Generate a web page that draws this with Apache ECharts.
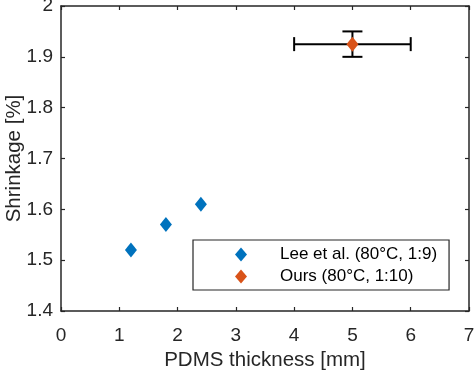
<!DOCTYPE html>
<html>
<head>
<meta charset="utf-8">
<script src="https://cdn.jsdelivr.net/npm/echarts@6/dist/echarts.min.js"></script>
<style>html,body{margin:0;padding:0;background:#fff;}#c{width:474px;height:370px;}</style>
</head>
<body>
<div id="c"></div>
<script>
// Data
const leeName = 'Lee et al. (80°C, 1:9)';
const oursName = 'Ours (80°C, 1:10)';
const leeX = [1.2, 1.8, 2.4];
const leeY = [1.52, 1.57, 1.61];
const oursX = [5];
const oursY = [1.925];
const oursXLow = [4];
const oursXHigh = [6];
const oursYLow = [1.90];
const oursYHigh = [1.95];
const xTicks = [0, 1, 2, 3, 4, 5, 6, 7];
const yTicks = [1.4, 1.5, 1.6, 1.7, 1.8, 1.9, 2];

const FONT = '"Liberation Sans", Arial, Helvetica, sans-serif';
const AX = '#262626';

const chart = echarts.init(document.getElementById('c'), null, {renderer: 'canvas'});

const errData = oursX.map((x, i) => [x, oursY[i], oursXLow[i], oursXHigh[i], oursYLow[i], oursYHigh[i]]);

const axisCommon = {
  axisLine: {show: true, onZero: false, lineStyle: {color: AX, width: 1.5}},
  axisTick: {show: true, inside: true, length: 4, lineStyle: {color: AX, width: 1.2}},
  splitLine: {show: false}
};

const option = {
  animation: false,
  backgroundColor: '#fff',
  textStyle: {fontFamily: FONT},
  grid: {left: 61, top: 6, right: 5, bottom: 59, containLabel: false, outerBoundsMode: 'none'},
  legend: {
    data: [leeName, oursName],
    orient: 'vertical',
    left: 193, top: 240,
    padding: [6, 12, 5, 42],
    itemWidth: 12, itemHeight: 14, itemGap: 5,
    icon: 'diamond',
    borderColor: AX, borderWidth: 1.2,
    backgroundColor: '#fff',
    textStyle: {fontSize: 17, color: '#000', fontFamily: FONT, padding: [0, 0, 0, 28]}
  },
  xAxis: [
    Object.assign({
      type: 'value', position: 'bottom', min: xTicks[0], max: xTicks[xTicks.length - 1], interval: 1,
      name: 'PDMS thickness [mm]', nameLocation: 'middle', nameGap: 39, nameMoveOverlap: false,
      nameTextStyle: {fontSize: 20.5, color: AX, fontFamily: FONT},
      axisLabel: {fontSize: 19, color: AX, margin: 15, fontFamily: FONT}
    }, axisCommon),
    Object.assign({
      type: 'value', position: 'top', min: xTicks[0], max: xTicks[xTicks.length - 1], interval: 1,
      axisLabel: {show: false}
    }, axisCommon)
  ],
  yAxis: [
    Object.assign({
      type: 'value', position: 'left', min: yTicks[0], max: yTicks[yTicks.length - 1], interval: 0.1,
      name: 'Shrinkage [%]', nameLocation: 'middle', nameGap: 36, nameMoveOverlap: false,
      nameTextStyle: {fontSize: 20.5, color: AX, fontFamily: FONT},
      axisLabel: {fontSize: 19, color: AX, margin: 8, fontFamily: FONT,
        formatter: v => (Math.round(v * 10) / 10).toString()}
    }, axisCommon),
    Object.assign({
      type: 'value', position: 'right', min: yTicks[0], max: yTicks[yTicks.length - 1], interval: 0.1,
      axisLabel: {show: false}
    }, axisCommon)
  ],
  series: [
    {
      name: 'err', type: 'custom', xAxisIndex: 0, yAxisIndex: 0, z: 1,
      data: errData,
      renderItem: function (params, api) {
        const c = api.coord([api.value(0), api.value(1)]);
        const xl = api.coord([api.value(2), api.value(1)]);
        const xh = api.coord([api.value(3), api.value(1)]);
        const yl = api.coord([api.value(0), api.value(4)]);
        const yh = api.coord([api.value(0), api.value(5)]);
        const st = {stroke: '#000', lineWidth: 2};
        const capV = 7, capH = 10;
        return {
          type: 'group',
          children: [
            {type: 'line', shape: {x1: xl[0], y1: c[1], x2: xh[0], y2: c[1]}, style: st},
            {type: 'line', shape: {x1: xl[0], y1: c[1] - capV, x2: xl[0], y2: c[1] + capV}, style: st},
            {type: 'line', shape: {x1: xh[0], y1: c[1] - capV, x2: xh[0], y2: c[1] + capV}, style: st},
            {type: 'line', shape: {x1: c[0], y1: yl[1], x2: c[0], y2: yh[1]}, style: st},
            {type: 'line', shape: {x1: c[0] - capH, y1: yl[1], x2: c[0] + capH, y2: yl[1]}, style: st},
            {type: 'line', shape: {x1: c[0] - capH, y1: yh[1], x2: c[0] + capH, y2: yh[1]}, style: st}
          ]
        };
      }
    },
    {
      name: leeName, type: 'scatter', symbol: 'diamond', symbolSize: [12, 15], z: 3,
      itemStyle: {color: '#0072BD', opacity: 1},
      data: leeX.map((x, i) => [x, leeY[i]])
    },
    {
      name: oursName, type: 'scatter', symbol: 'diamond', symbolSize: [12, 15], z: 3,
      itemStyle: {color: '#D95319', opacity: 1},
      data: oursX.map((x, i) => [x, oursY[i]])
    }
  ]
};
chart.setOption(option);
</script>
</body>
</html>
